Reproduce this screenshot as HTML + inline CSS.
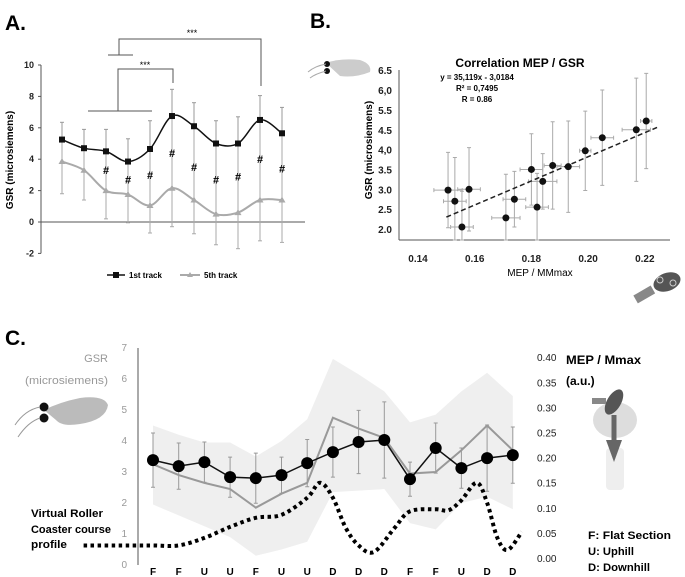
<!DOCTYPE html>
<html><head><meta charset="utf-8"><style>
html,body{margin:0;padding:0;background:#fff;}
svg{display:block;font-family:"Liberation Sans",sans-serif;}
</style></head><body>
<svg id="fig" width="685" height="577" viewBox="0 0 685 577">
<rect width="685" height="577" fill="#fff"/>
<text x="5" y="30" font-size="21" font-weight="bold">A.</text>
<text x="310" y="28" font-size="21" font-weight="bold">B.</text>
<text x="5" y="345" font-size="21" font-weight="bold">C.</text>
<g id="A"></g>
<g id="B"></g>
<g id="C"></g>
</svg>
<script>
// ---------- Panel A data ----------
const aTrack1 = [5.25,4.7,4.5,3.85,4.65,6.75,6.1,5.0,5.0,6.5,5.65];
const aTrack1Up = [6.35,5.9,5.9,5.3,6.45,8.45,7.6,6.45,6.7,8.05,7.3];
const aTrack5 = [3.85,3.3,2.0,1.75,1.05,2.15,1.4,0.5,0.6,1.4,1.4];
const aTrack5Low = [1.8,1.4,0.2,-0.05,-0.7,-0.3,-0.75,-1.45,-1.7,-1.2,-1.3];
const aHashY = [null,null,3.3,2.7,3.0,4.4,3.5,2.7,2.9,4.0,3.4];
const aTicks = [10,8,6,4,2,0,-2];
// ---------- Panel B data ----------
const bMEP = [0.1506,0.153,0.158,0.1555,0.171,0.174,0.180,0.182,0.184,0.1875,0.193,0.199,0.205,0.217,0.2205];
const bGSR = [2.98,2.70,3.0,2.05,2.28,2.75,3.5,2.55,3.2,3.6,3.57,3.97,4.3,4.5,4.72];
const bGSRerr = [0.95,1.1,1.05,0.9,1.1,0.7,0.9,0.85,0.7,1.1,1.15,1.0,1.2,1.3,1.2];
const bMEPerr = [0.005,0.004,0.004,0.004,0.005,0.004,0.004,0.004,0.005,0.003,0.004,0.002,0.004,0.005,0.002];
const bYTicks = [2,2.5,3,3.5,4,4.5,5,5.5,6];
const bYTickLabels = ["2.0","2.5","3.0","3.5","4,0","4.5","5.5","6,0","6.5"];
const bXTicks = [0.14,0.16,0.18,0.20,0.22];
const bTrendX = [0.15,0.2247];
const bTrendY = [2.3,4.57];
// ---------- Panel C data ----------
const cCats = ["F","F","U","U","F","U","U","D","D","D","F","F","U","D","D"];
const cMEP = [0.195,0.183,0.191,0.161,0.159,0.165,0.189,0.211,0.231,0.235,0.157,0.219,0.179,0.199,0.205];
const cMEPerr = [0.054,0.046,0.04,0.04,0.05,0.036,0.047,0.05,0.063,0.076,0.034,0.05,0.04,0.066,0.056];
const cGSR = [3.25,2.9,2.65,2.45,1.85,2.3,2.65,4.75,4.4,4.1,2.95,3.0,3.7,4.5,3.7];
const cGSRup = [4.5,4.2,3.95,3.95,3.5,4.0,4.7,6.65,6.15,5.6,4.6,4.85,5.6,6.2,5.45];
const cGSRlow = [1.95,1.6,1.25,0.9,0.3,0.5,0.75,2.35,2.4,2.45,1.35,1.15,2.0,2.2,1.8];
const cProfileX = [-2.7,-1,0,1,2,3,4,5,6,6.5,7,7.5,8,8.6,9.4,10,11,11.5,12,12.6,13,13.4,13.8,14.35];
const cProfileY = [0.025,0.025,0.025,0.025,0.04,0.062,0.08,0.086,0.12,0.15,0.12,0.06,0.025,0.012,0.06,0.093,0.097,0.095,0.115,0.15,0.11,0.04,0.016,0.052];
const cLeftTicks = [0,1,2,3,4,5,6,7];
const cRightTicks = ["0.00","0.05","0.10","0.15","0.20","0.25","0.30","0.35","0.40"];

const NS="http://www.w3.org/2000/svg";
function el(parent,tag,attrs,text){const e=document.createElementNS(NS,tag);for(const k in attrs)e.setAttribute(k,attrs[k]);if(text!==undefined)e.textContent=text;parent.appendChild(e);return e;}
function smooth(pts){let d="M"+pts[0][0]+","+pts[0][1];for(let i=0;i<pts.length-1;i++){const p0=pts[i-1]||pts[i],p1=pts[i],p2=pts[i+1],p3=pts[i+2]||p2;const c1=[p1[0]+(p2[0]-p0[0])/6,p1[1]+(p2[1]-p0[1])/6],c2=[p2[0]-(p3[0]-p1[0])/6,p2[1]-(p3[1]-p1[1])/6];d+=" C"+c1[0]+","+c1[1]+" "+c2[0]+","+c2[1]+" "+p2[0]+","+p2[1];}return d;}

// ---------- Panel A ----------
(function(){
const g=document.getElementById('A');
const ax=i=>62+i*22, ay=v=>222-v*15.7;
let e;
e=el(g,'line',{x1:41,y1:ay(10),x2:41,y2:ay(-2),stroke:'#555'});


e=el(g,'line',{x1:41,y1:ay(0),x2:305,y2:ay(0),stroke:'#555'});


aTicks.forEach(t=>{el(g,'line',{x1:38,x2:41,y1:ay(t),y2:ay(t),stroke:'#555'});
 e=el(g,'text',{x:34,y:ay(t)+3,'font-size':9,'font-weight':'bold','text-anchor':'end',fill:'#222'},String(t));
 
 });
e=el(g,'text',{x:13,y:160,'font-size':10,'font-weight':'bold','text-anchor':'middle',transform:'rotate(-90 13 160)'},'GSR (microsiemens)');


aTrack1.forEach((v,i)=>{el(g,'line',{x1:ax(i),x2:ax(i),y1:ay(v),y2:ay(aTrack1Up[i]),stroke:'#999'});el(g,'line',{x1:ax(i)-2,x2:ax(i)+2,y1:ay(aTrack1Up[i]),y2:ay(aTrack1Up[i]),stroke:'#999'});});
aTrack5.forEach((v,i)=>{el(g,'line',{x1:ax(i),x2:ax(i),y1:ay(aTrack5Low[i]),y2:ay(aTrack1[i]),stroke:'#aaa'});el(g,'line',{x1:ax(i)-2,x2:ax(i)+2,y1:ay(aTrack5Low[i]),y2:ay(aTrack5Low[i]),stroke:'#aaa'});});
e=el(g,'path',{d:smooth(aTrack5.map((v,i)=>[ax(i),ay(v)])),fill:'none',stroke:'#aaa','stroke-width':2});


aTrack5.forEach((v,i)=>{e=el(g,'path',{d:`M${ax(i)-3.5},${ay(v)+2.5} L${ax(i)},${ay(v)-3.5} L${ax(i)+3.5},${ay(v)+2.5}Z`,fill:'#aaa'});
 
 });
e=el(g,'path',{d:smooth(aTrack1.map((v,i)=>[ax(i),ay(v)])),fill:'none',stroke:'#111','stroke-width':1.5});


aTrack1.forEach((v,i)=>{e=el(g,'rect',{x:ax(i)-3,y:ay(v)-3,width:6,height:6,fill:'#111'});
 
 });
aHashY.forEach((v,i)=>{if(v===null)return;e=el(g,'text',{x:ax(i),y:ay(v)+4,'font-size':11,'font-weight':'bold','text-anchor':'middle'},'#');
 
 });
e=el(g,'path',{d:'M88,111 H152 M118,111 V69 H173 V83 M108,55 H133 M119,55 V39 H261 V86',fill:'none',stroke:'#555','stroke-width':1});


el(g,'text',{x:145,y:68,'font-size':9,'text-anchor':'middle'},'***');
el(g,'text',{x:192,y:36,'font-size':9,'text-anchor':'middle'},'***');
el(g,'line',{x1:107,x2:125,y1:275,y2:275,stroke:'#111','stroke-width':1.5});el(g,'rect',{x:113,y:272,width:6,height:6,fill:'#111'});
e=el(g,'text',{x:129,y:278,'font-size':8,'font-weight':'bold'},'1st track');


el(g,'line',{x1:180,x2:200,y1:275,y2:275,stroke:'#aaa','stroke-width':2});el(g,'path',{d:'M187,277 L190,272 L193,277Z',fill:'#aaa'});
e=el(g,'text',{x:204,y:278,'font-size':8,'font-weight':'bold'},'5th track');


})();

// ---------- Panel B ----------
(function(){
const g=document.getElementById('B');
const bx=v=>418+(v-0.14)*2835, by=v=>229-(v-2)*39.7;
let e;
e=el(g,'text',{x:520,y:67,'font-size':12,'font-weight':'bold','text-anchor':'middle'},'Correlation MEP / GSR');


e=el(g,'line',{x1:399,y1:70,x2:399,y2:240,stroke:'#555'});


e=el(g,'line',{x1:399,y1:240,x2:670,y2:240,stroke:'#555'});


bYTicks.forEach((t,i)=>{e=el(g,'text',{x:392,y:by(t)+4,'font-size':10,'font-weight':'bold','text-anchor':'end',fill:'#222'},bYTickLabels[i]);
 
 });
bXTicks.forEach(t=>{e=el(g,'text',{x:bx(t),y:262,'font-size':10,'font-weight':'bold','text-anchor':'middle',fill:'#222'},t.toFixed(2));
 
 });
e=el(g,'text',{x:372,y:150,'font-size':10,'font-weight':'bold','text-anchor':'middle',transform:'rotate(-90 372 150)'},'GSR (microsiemens)');


e=el(g,'text',{x:540,y:276,'font-size':10,'text-anchor':'middle'},'MEP / MMmax');


[['y = 35,119x - 3,0184',80],['R² = 0,7495',91],['R = 0.86',102]].forEach(a=>{e=el(g,'text',{x:477,y:a[1],'font-size':8,'font-weight':'bold','text-anchor':'middle'},a[0]);
 
 });
bMEP.forEach((m,i)=>{const x=bx(m),y=by(bGSR[i]),y1=by(bGSR[i]+bGSRerr[i]),y2=Math.min(by(bGSR[i]-bGSRerr[i]),240),x1=bx(m-bMEPerr[i]),x2=bx(m+bMEPerr[i]);
 el(g,'path',{d:`M${x},${y1}V${y2}M${x-2},${y1}H${x+2}M${x-2},${y2}H${x+2}M${x1},${y}H${x2}M${x1},${y-2}V${y+2}M${x2},${y-2}V${y+2}`,stroke:'#aaa',fill:'none'});});
e=el(g,'line',{x1:bx(bTrendX[0]),y1:by(bTrendY[0]),x2:bx(bTrendX[1]),y2:by(bTrendY[1]),stroke:'#222','stroke-width':1.5,'stroke-dasharray':'5 3'});


bMEP.forEach((m,i)=>{e=el(g,'circle',{cx:bx(m),cy:by(bGSR[i]),r:3.5,fill:'#111'});
 
 });
e=el(g,'g',{});


el(e,'path',{d:'M326,63 Q340,58 360,60 Q372,64 370,72 Q355,78 340,76 Z',fill:'#ccc'});
el(e,'circle',{cx:327,cy:64,r:3,fill:'#111'});el(e,'circle',{cx:327,cy:71,r:3,fill:'#111'});
el(e,'path',{d:'M326,64 Q315,66 308,72 M326,71 Q315,74 310,78',stroke:'#aaa',fill:'none'});
e=el(g,'g',{});


el(e,'ellipse',{cx:667,cy:282,rx:14,ry:9,fill:'#555',transform:'rotate(-20 667 282)'});
el(e,'circle',{cx:660,cy:280,r:3,fill:'none',stroke:'#ccc'});el(e,'circle',{cx:673,cy:283,r:3,fill:'none',stroke:'#ccc'});
el(e,'rect',{x:634,y:290,width:20,height:9,fill:'#888',transform:'rotate(-30 644 294)'});
})();

// ---------- Panel C ----------
(function(){
const g=document.getElementById('C');
const cx=i=>153+i*25.7, ly=v=>565-v*31, ry=v=>558-v*502;
let e;
let band=cGSRup.map((v,i)=>cx(i)+','+ly(v)).concat(cGSRlow.map((v,i)=>cx(i)+','+ly(v)).reverse());
e=el(g,'polygon',{points:band.join(' '),fill:'#efefef'});


e=el(g,'line',{x1:138,y1:348,x2:138,y2:565,stroke:'#555'});


cLeftTicks.forEach(t=>{e=el(g,'text',{x:127,y:ly(t)+3,'font-size':10,'text-anchor':'end',fill:'#999'},String(t));
 
 });
cRightTicks.forEach((t,i)=>{e=el(g,'text',{x:537,y:ry(i*0.05)+4,'font-size':10,fill:'#222'},t);
 
 });
cCats.forEach((c,i)=>{e=el(g,'text',{x:cx(i),y:575,'font-size':10,'font-weight':'bold','text-anchor':'middle'},c);
 
 });
e=el(g,'text',{x:108,y:362,'font-size':11,'text-anchor':'end',fill:'#999'},'GSR');


el(g,'text',{x:108,y:384,'font-size':11,'text-anchor':'end',fill:'#999',textLength:83,lengthAdjust:'spacingAndGlyphs'},'(microsiemens)');
e=el(g,'text',{x:566,y:364,'font-size':12,'font-weight':'bold',textLength:75,lengthAdjust:'spacingAndGlyphs'},'MEP / Mmax');


el(g,'text',{x:566,y:385,'font-size':12,'font-weight':'bold'},'(a.u.)');
[['Virtual Roller',517,72],['Coaster course',533,80],['profile',548,36]].forEach(a=>{e=el(g,'text',{x:31,y:a[1],'font-size':11,'font-weight':'bold',textLength:a[2],lengthAdjust:'spacingAndGlyphs'},a[0]);
 
 });
[['F: Flat Section',539,83],['U: Uphill',555,46],['D: Downhill',571,62]].forEach(a=>{e=el(g,'text',{x:588,y:a[1],'font-size':11,'font-weight':'bold',textLength:a[2],lengthAdjust:'spacingAndGlyphs'},a[0]);
 
 });
e=el(g,'path',{d:smooth(cProfileX.map((x,i)=>[cx(x),ry(cProfileY[i])])),fill:'none',stroke:'#000','stroke-width':4,'stroke-dasharray':'3.5 3.5'});


e=el(g,'polyline',{points:cGSR.map((v,i)=>cx(i)+','+ly(v)).join(' '),fill:'none',stroke:'#999','stroke-width':2});


cMEP.forEach((v,i)=>{const x=cx(i),a=ry(v+cMEPerr[i]),b=ry(v-cMEPerr[i]);el(g,'path',{d:`M${x},${a}V${b}M${x-2},${a}H${x+2}M${x-2},${b}H${x+2}`,stroke:'#999',fill:'none'});});
e=el(g,'polyline',{points:cMEP.map((v,i)=>cx(i)+','+ry(v)).join(' '),fill:'none',stroke:'#111','stroke-width':1.5});


cMEP.forEach((v,i)=>{e=el(g,'circle',{cx:cx(i),cy:ry(v),r:6,fill:'#000'});
 
 });
e=el(g,'g',{});


el(e,'path',{d:'M44,410 Q60,402 80,398 Q104,395 108,405 Q106,420 80,424 Q62,427 56,420 Z',fill:'#bbb'});
el(e,'circle',{cx:44,cy:407,r:4.5,fill:'#111'});el(e,'circle',{cx:44,cy:418,r:4.5,fill:'#111'});
el(e,'path',{d:'M40,407 Q25,410 15,425 M40,418 Q28,422 18,437',stroke:'#999',fill:'none'});
e=el(g,'g',{});


el(e,'ellipse',{cx:615,cy:420,rx:22,ry:18,fill:'#ddd'});
el(e,'rect',{x:606,y:448,width:18,height:42,fill:'#eee',rx:4});
el(e,'ellipse',{cx:614,cy:402,rx:7,ry:14,fill:'#555',transform:'rotate(30 614 402)'});
el(e,'rect',{x:592,y:398,width:14,height:6,fill:'#888'});
el(e,'line',{x1:614,y1:415,x2:614,y2:442,stroke:'#666','stroke-width':5});
el(e,'path',{d:'M606,440 L622,440 L614,462Z',fill:'#666'});
})();
</script>
</body></html>
